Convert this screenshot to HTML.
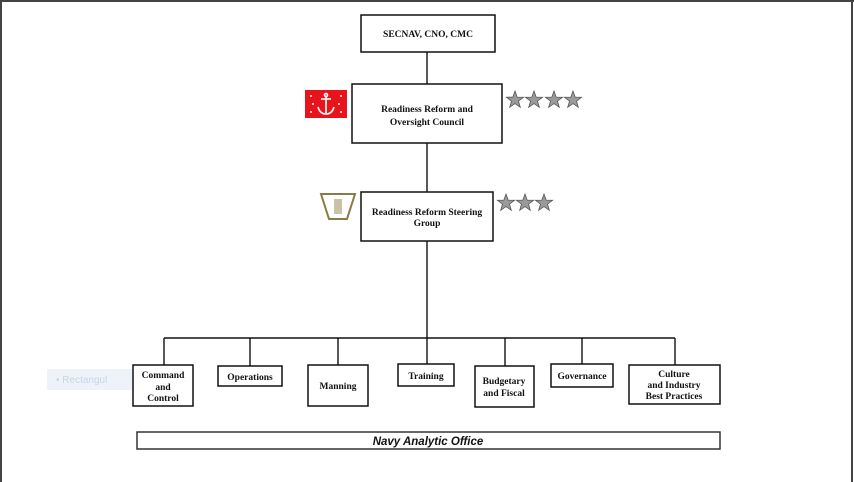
<!DOCTYPE html>
<html><head><meta charset="utf-8"><style>
html,body{margin:0;padding:0;background:#fff;width:854px;height:482px;overflow:hidden}
text{font-family:"Liberation Serif",serif;font-weight:bold;font-size:9.5px;fill:#111}
</style></head><body>
<svg width="854" height="482" viewBox="0 0 854 482" xmlns="http://www.w3.org/2000/svg">
<defs>
<polygon id="st" points="0,-9 2.2,-2.9 8.6,-2.8 3.5,1.1 5.3,7.3 0,3.6 -5.3,7.3 -3.5,1.1 -8.6,-2.8 -2.2,-2.9" fill="#9a9a9a" stroke="#555" stroke-width="0.8"/>
</defs>
<rect x="0" y="0" width="854" height="2" fill="#444"/>
<rect x="0" y="0" width="2" height="482" fill="#444"/>
<rect x="851" y="0" width="2" height="482" fill="#444"/>
<g stroke="#111" stroke-width="1.4" fill="none">
<line x1="427" y1="52" x2="427" y2="84"/>
<line x1="427" y1="143" x2="427" y2="192"/>
<line x1="427" y1="241" x2="427" y2="364"/>
<line x1="164" y1="338" x2="675" y2="338"/>
<line x1="164" y1="338" x2="164" y2="365"/>
<line x1="250" y1="338" x2="250" y2="366"/>
<line x1="338" y1="338" x2="338" y2="365"/>
<line x1="505" y1="338" x2="505" y2="366"/>
<line x1="582" y1="338" x2="582" y2="364"/>
<line x1="675" y1="338" x2="675" y2="365"/>
</g>
<g stroke="#111" stroke-width="1.5" fill="#fff">
<rect x="361" y="15" width="134" height="37"/>
<rect x="352" y="84" width="150" height="59"/>
<rect x="361" y="192" width="132" height="49"/>
<rect x="133" y="365" width="60" height="41"/>
<rect x="218" y="366" width="64" height="20"/>
<rect x="308" y="365" width="60" height="41"/>
<rect x="398" y="364" width="56" height="22"/>
<rect x="475" y="366" width="59" height="41"/>
<rect x="551" y="364" width="62" height="23"/>
<rect x="629" y="365" width="91" height="39"/>
<rect x="137" y="432" width="583" height="17" stroke="#333"/>
</g>
<rect x="47" y="369" width="85" height="21" fill="#eef3fa"/>
<text x="56" y="383" style="font-family:'Liberation Sans',sans-serif;font-weight:normal;fill:#c8d4e6;font-size:10px">•   Rectangul</text>
<text x="428" y="37" text-anchor="middle">SECNAV, CNO, CMC</text>
<text x="427" y="112" text-anchor="middle">Readiness Reform and</text>
<text x="427" y="125" text-anchor="middle">Oversight Council</text>
<text x="427" y="215" text-anchor="middle">Readiness Reform Steering</text>
<text x="427" y="226" text-anchor="middle">Group</text>
<text x="163" y="378" text-anchor="middle">Command</text>
<text x="163" y="390" text-anchor="middle">and</text>
<text x="163" y="401" text-anchor="middle">Control</text>
<text x="250" y="380" text-anchor="middle">Operations</text>
<text x="338" y="389" text-anchor="middle">Manning</text>
<text x="426" y="379" text-anchor="middle">Training</text>
<text x="504" y="384" text-anchor="middle">Budgetary</text>
<text x="504" y="396" text-anchor="middle">and Fiscal</text>
<text x="582" y="379" text-anchor="middle">Governance</text>
<text x="674" y="377" text-anchor="middle">Culture</text>
<text x="674" y="388" text-anchor="middle">and Industry</text>
<text x="674" y="399" text-anchor="middle">Best Practices</text>
<text x="428" y="445" text-anchor="middle" style="font-family:'Liberation Sans',sans-serif;font-style:italic;font-size:11.5px">Navy Analytic Office</text>
<rect x="305" y="90" width="42" height="28" fill="#e8141b"/>
<g stroke="#fff" stroke-width="1.6" fill="none">
<circle cx="326" cy="95" r="1.5"/>
<line x1="326" y1="96" x2="326" y2="113"/>
<line x1="321" y1="99" x2="331" y2="99"/>
<path d="M318 107 Q320 114 326 114 Q332 114 334 107"/>
</g>
<g fill="#fff"><circle cx="311" cy="96" r="1"/><circle cx="341" cy="96" r="1"/><circle cx="311" cy="112" r="1"/><circle cx="341" cy="112" r="1"/><circle cx="313" cy="104" r="1"/><circle cx="339" cy="104" r="1"/></g>
<polygon points="321,194 355,194 347,219 329,219" fill="#fff" stroke="#8a7a45" stroke-width="2"/>
<rect x="334" y="199" width="8" height="15" fill="#c9c2a8"/>
<use href="#st" x="515" y="100"/><use href="#st" x="534" y="100"/><use href="#st" x="554" y="100"/><use href="#st" x="573" y="100"/>
<use href="#st" x="506" y="203"/><use href="#st" x="525" y="203"/><use href="#st" x="544" y="203"/>
</svg>
</body></html>
